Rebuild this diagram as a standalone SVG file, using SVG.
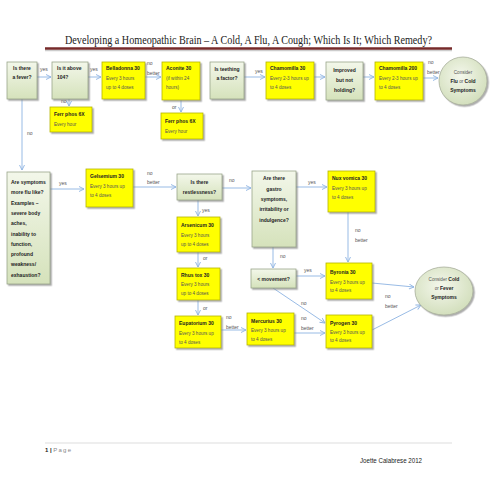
<svg xmlns="http://www.w3.org/2000/svg" width="495" height="495" viewBox="0 0 495 495">
<defs>
<linearGradient id="gg" x1="0" y1="0" x2="0" y2="1">
<stop offset="0" stop-color="#f3f7ea"/><stop offset="1" stop-color="#d5e2bb"/>
</linearGradient>
<radialGradient id="cg" cx="0.45" cy="0.4" r="0.6">
<stop offset="0" stop-color="#f4f7ec"/><stop offset="1" stop-color="#d3dfbd"/>
</radialGradient>
<filter id="sh" x="-20%" y="-20%" width="150%" height="150%">
<feDropShadow dx="1.5" dy="1.5" stdDeviation="0.7" flood-color="#777" flood-opacity="0.6"/>
</filter>
<marker id="ah" viewBox="0 0 6 6" refX="5.5" refY="3" markerWidth="6" markerHeight="6" orient="auto" markerUnits="userSpaceOnUse">
<path d="M0.5,0.5 L5.5,3 L0.5,5.5" fill="none" stroke="#8db3e2" stroke-width="0.9"/>
</marker>
</defs>
<style>
.g{fill:url(#gg);stroke:#9aa58a;stroke-width:0.8;filter:url(#sh)}
.y{fill:#ffff00;stroke:#b5b500;stroke-width:0.8;filter:url(#sh)}
.c{fill:url(#cg);stroke:#a8ae9c;stroke-width:0.8;filter:url(#sh)}
.t{font-family:"Liberation Sans",Arial,sans-serif;font-size:5px;font-weight:bold;fill:#222}
.s{font-family:"Liberation Sans",Arial,sans-serif;font-size:4.6px;fill:#555}
.m{text-anchor:middle}
.l{font-family:"Liberation Sans",Arial,sans-serif;font-size:5px;fill:#555}
.k{fill:none;stroke:#8db3e2;stroke-width:0.9;marker-end:url(#ah)}
</style>
<rect width="495" height="495" fill="#ffffff"/>
<text transform="translate(248.5,44) scale(1,1.35)" x="0" y="0" text-anchor="middle" font-family="Liberation Serif,serif" font-size="10" fill="#222" textLength="367" lengthAdjust="spacingAndGlyphs">Developing a Homeopathic Brain – A Cold, A Flu, A Cough; Which Is It; Which Remedy?</text>
<line x1="45" y1="50.5" x2="452" y2="50.5" stroke="#cccccc" stroke-width="1.5"/>
<line x1="45" y1="48.5" x2="452" y2="48.5" stroke="#762a2a" stroke-width="2.4"/>

<g id="connectors">
<path class="k" d="M37,77 H51"/>
<path class="k" d="M88,77 H101"/>
<path class="k" d="M145,77 H161"/>
<path class="k" d="M69,99 V106"/>
<path class="k" d="M181,100 V112"/>
<path class="k" d="M244,77 H265"/>
<path class="k" d="M314,77 H325"/>
<path class="k" d="M363,77 H374"/>
<path class="k" d="M423,78 H438"/>
<path class="k" d="M22,99 V170"/>
<path class="k" d="M50,189 H84"/>
<path class="k" d="M133,187 H176"/>
<path class="k" d="M222,188 H251"/>
<path class="k" d="M296,187 H327"/>
<path class="k" d="M198,200 V216"/>
<path class="k" d="M198,252 V267"/>
<path class="k" d="M198,300 V315"/>
<path class="k" d="M221,330 H246"/>
<path class="k" d="M273,247 V268"/>
<path class="k" d="M348,212 V262"/>
<path class="k" d="M296,276 H325"/>
<path class="k" d="M273,288 L325,323"/>
<path class="k" d="M294,333 H325"/>
<path class="k" d="M372,283 L414,287"/>
<path class="k" d="M372,330 L421,305"/>
<text class="l" x="40" y="71">yes</text>
<text class="l" x="90" y="71">yes</text>
<text class="l" x="147" y="65">no</text>
<text class="l" x="147" y="75">better</text>
<text class="l" x="61" y="103">no</text>
<text class="l" x="172" y="109">or</text>
<text class="l" x="255" y="73">yes</text>
<text class="l" x="428" y="64">no</text>
<text class="l" x="427" y="74">better</text>
<text class="l" x="27" y="135">no</text>
<text class="l" x="59" y="185">yes</text>
<text class="l" x="147" y="175">no</text>
<text class="l" x="147" y="184">better</text>
<text class="l" x="229" y="182">no</text>
<text class="l" x="308" y="184">yes</text>
<text class="l" x="202" y="212">yes</text>
<text class="l" x="203" y="260">or</text>
<text class="l" x="203" y="310">or</text>
<text class="l" x="226" y="319">no</text>
<text class="l" x="226" y="329">better</text>
<text class="l" x="280" y="258">no</text>
<text class="l" x="355" y="232">no</text>
<text class="l" x="355" y="242">better</text>
<text class="l" x="304" y="272">yes</text>
<text class="l" x="301" y="305">no</text>
<text class="l" x="301" y="320">no</text>
<text class="l" x="301" y="330">better</text>
<text class="l" x="385" y="298">no</text>
<text class="l" x="385" y="308">better</text>
</g>

<g id="n1"><rect class="g" x="7" y="62" width="30" height="37"/>
<text class="t m" x="22" y="70">Is there</text><text class="t m" x="22" y="79">a fever?</text></g>
<g id="n2"><rect class="g" x="52" y="62" width="36" height="37"/>
<text class="t" x="57" y="70">Is it above</text><text class="t" x="57" y="79">104?</text></g>
<g id="n3"><rect class="y" x="102" y="62" width="43" height="37"/>
<text class="t" x="106" y="70">Belladonna 30</text><text class="s" x="106" y="80">Every 3 hours</text><text class="s" x="106" y="88.5">up to 4 doses</text></g>
<g id="n4"><rect class="y" x="50" y="107" width="42" height="25"/>
<text class="t" x="54" y="116">Ferr phos 6X</text><text class="s" x="54" y="126">Every hour</text></g>
<g id="n5"><rect class="y" x="162" y="62" width="38" height="38"/>
<text class="t" x="166" y="70">Aconite 30</text><text class="s" x="166" y="80">(if within 24</text><text class="s" x="166" y="88.5">hours)</text></g>
<g id="n6"><rect class="y" x="161" y="113" width="42" height="26"/>
<text class="t" x="165" y="123">Ferr phos 6X</text><text class="s" x="165" y="133">Every hour</text></g>
<g id="n7"><rect class="g" x="210" y="62" width="34" height="37"/>
<text class="t m" x="227" y="71">Is teething</text><text class="t m" x="227" y="80">a factor?</text></g>
<g id="n8"><rect class="y" x="266" y="62" width="48" height="37"/>
<text class="t" x="270" y="70">Chamomilla 30</text><text class="s" x="270" y="80">Every 2-3 hours up</text><text class="s" x="270" y="88.5">to 4 doses</text></g>
<g id="n9"><rect class="g" x="326" y="62" width="37" height="38"/>
<text class="t m" x="344.5" y="72">Improved</text><text class="t m" x="344.5" y="82">but not</text><text class="t m" x="344.5" y="92">holding?</text></g>
<g id="n10"><rect class="y" x="375" y="62" width="48" height="38"/>
<text class="t" x="379" y="70">Chamomilla 200</text><text class="s" x="379" y="80">Every 2-3 hours up</text><text class="s" x="379" y="89">to 4 doses</text></g>
<g id="n11"><circle class="c" cx="463" cy="81" r="24"/>
<text class="s m" x="463" y="74">Consider</text>
<text class="s m" x="463" y="83"><tspan class="t">Flu</tspan> or <tspan class="t">Cold</tspan></text>
<text class="t m" x="463" y="92">Symptoms</text></g>

<g id="n12"><rect class="g" x="7" y="172" width="43" height="112"/>
<text class="t" x="11" y="184">Are symptoms</text>
<text class="t" x="11" y="194.3">more flu like?</text>
<text class="t" x="11" y="204.6">Examples –</text>
<text class="t" x="11" y="214.9">severe body</text>
<text class="t" x="11" y="225.2">aches,</text>
<text class="t" x="11" y="235.5">inability to</text>
<text class="t" x="11" y="245.8">function,</text>
<text class="t" x="11" y="256.1">profound</text>
<text class="t" x="11" y="266.4">weakness/</text>
<text class="t" x="11" y="276.7">exhaustion?</text></g>
<g id="n13"><rect class="y" x="86" y="169" width="47" height="38"/>
<text class="t" x="90" y="178">Gelsemium 30</text><text class="s" x="90" y="188">Every 3 hours up</text><text class="s" x="90" y="197">to 4 doses</text></g>
<g id="n14"><rect class="g" x="177" y="174" width="45" height="26"/>
<text class="t m" x="199.5" y="184">Is there</text><text class="t m" x="199.5" y="194">restlessness?</text></g>
<g id="n15"><rect class="g" x="252" y="171" width="44" height="76"/>
<text class="t m" x="274" y="180">Are there</text><text class="t m" x="274" y="191">gastro</text><text class="t m" x="274" y="201">symptoms,</text><text class="t m" x="274" y="211">irritability or</text><text class="t m" x="274" y="222">indulgence?</text></g>
<g id="n16"><rect class="y" x="328" y="171" width="47" height="41"/>
<text class="t" x="332" y="180">Nux vomica 30</text><text class="s" x="332" y="190">Every 3 hours up</text><text class="s" x="332" y="199">to 4 doses</text></g>
<g id="n17"><rect class="y" x="177" y="217" width="43" height="35"/>
<text class="t" x="181" y="227">Arsenicum 30</text><text class="s" x="181" y="237">Every 3 hours</text><text class="s" x="181" y="246">up to 4 doses</text></g>
<g id="n18"><rect class="y" x="177" y="268" width="43" height="32"/>
<text class="t" x="181" y="277">Rhus tox 30</text><text class="s" x="181" y="286">Every 3 hours</text><text class="s" x="181" y="295">up to 4 doses</text></g>
<g id="n19"><rect class="y" x="175" y="316" width="46" height="32"/>
<text class="t" x="179" y="325">Eupatorium 30</text><text class="s" x="179" y="335">Every 3 hours up</text><text class="s" x="179" y="344">to 4 doses</text></g>
<g id="n20"><rect class="y" x="247" y="313" width="47" height="32"/>
<text class="t" x="251" y="323">Mercurius 30</text><text class="s" x="251" y="332">Every 3 hours up</text><text class="s" x="251" y="341">to 4 doses</text></g>
<g id="n21"><rect class="g" x="251" y="269" width="45" height="19"/>
<text class="t m" x="273.5" y="280.5">&lt; movement?</text></g>
<g id="n22"><rect class="y" x="326" y="263" width="46" height="36"/>
<text class="t" x="330" y="273.5">Byronia 30</text><text class="s" x="330" y="283.5">Every 3 hours up</text><text class="s" x="330" y="291.5">to 4 doses</text></g>
<g id="n23"><rect class="y" x="326" y="315" width="46" height="33"/>
<text class="t" x="330" y="324.5">Pyrogen 30</text><text class="s" x="330" y="333.5">Every 3 hours up</text><text class="s" x="330" y="342">to 4 doses</text></g>
<g id="n24"><ellipse class="c" cx="444" cy="291" rx="29" ry="24"/>
<text class="s m" x="444" y="281"><tspan>Consider </tspan><tspan class="t">Cold</tspan></text>
<text class="s m" x="444" y="290">or <tspan class="t">Fever</tspan></text>
<text class="t m" x="444" y="299">Symptoms</text></g>

<line x1="45" y1="443" x2="452" y2="443" stroke="#dddddd" stroke-width="1"/>
<text x="45" y="452" font-family="Liberation Sans,Arial,sans-serif" font-size="6" fill="#222"><tspan font-weight="bold">1 | </tspan><tspan fill="#888" letter-spacing="1.2">Page</tspan></text>
<text x="360" y="463" font-family="Liberation Sans,Arial,sans-serif" font-size="6.3" fill="#222" textLength="62" lengthAdjust="spacingAndGlyphs">Joette Calabrese 2012</text>
</svg>
